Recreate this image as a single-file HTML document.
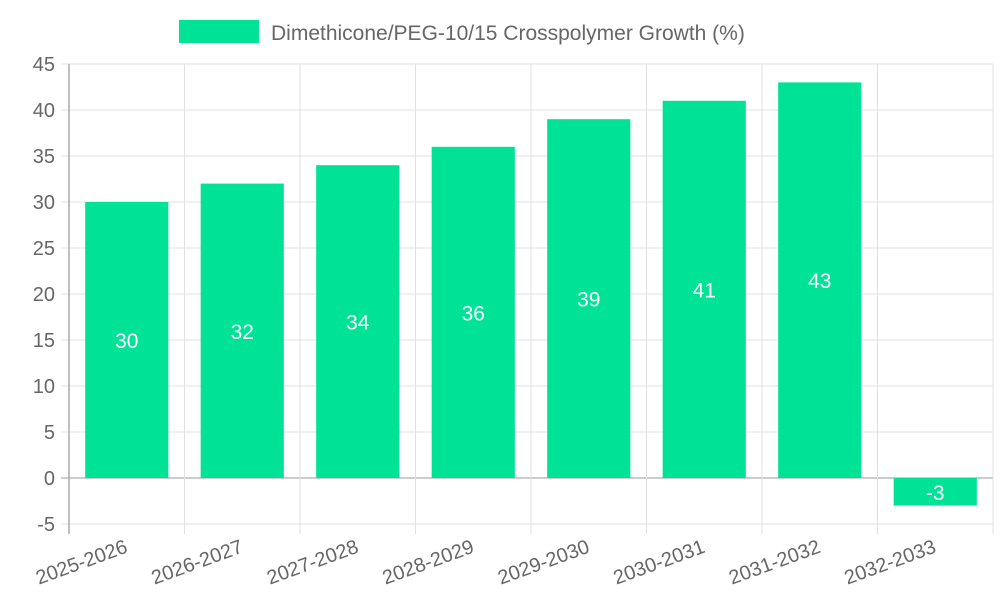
<!DOCTYPE html>
<html><head><meta charset="utf-8"><style>body{margin:0;background:#fff}svg{display:block}text{font-family:"Liberation Sans",sans-serif}</style></head>
<body>
<svg id="chart" width="1000" height="600" viewBox="0 0 1000 600">
<rect x="179" y="20" width="80" height="23" fill="#00e396"/>
<text x="271" y="40" font-size="21" fill="#666">Dimethicone/PEG-10/15 Crosspolymer Growth (%)</text>
<g id="grid"></g><g id="bars"></g><g id="labels"></g>
</svg>
<script>
const categories=["2025-2026","2026-2027","2027-2028","2028-2029","2029-2030","2030-2031","2031-2032","2032-2033"];
const values=[30,32,34,36,39,41,43,-3];
const yTicks=[-5,0,5,10,15,20,25,30,35,40,45];
const NS="http://www.w3.org/2000/svg";
const L=69,R=993,T=64,B=524,yMin=-5,yMax=45;
const y=v=>B-(v-yMin)/(yMax-yMin)*(B-T);
const bw=(R-L)/categories.length;
const x=i=>L+bw*i;
function mk(tag,attrs,parent){const e=document.createElementNS(NS,tag);for(const k in attrs)e.setAttribute(k,attrs[k]);document.getElementById(parent).appendChild(e);return e;}
yTicks.forEach(t=>{
  const g=mk("line",{x1:L-8,x2:R,y1:y(t),y2:y(t),stroke:t===0?"#bbb":"#e0e0e0","stroke-width":t===0?1.5:1},"grid");
  
  
  const tx=mk("text",{x:L-14,y:y(t)+7,"text-anchor":"end","font-size":20,fill:"#666"},"grid");
  tx.textContent=t;
  
  
});
for(let i=0;i<=categories.length;i++){
  const g=mk("line",{x1:x(i),x2:x(i),y1:T,y2:B+10,stroke:i===0?"#aaa":"#e0e0e0","stroke-width":i===0?1.5:1},"grid");
  
  
}
categories.forEach((c,i)=>{
  const cx=x(i)+bw/2,w=bw*0.72,v=values[i];
  const top=Math.min(y(v),y(0)),h=Math.abs(y(v)-y(0));
  const r=mk("rect",{x:cx-w/2,y:top,width:w,height:h,fill:"#00e396"},"bars");
  
  
  const vl=mk("text",{x:cx,y:top+h/2+8,"text-anchor":"middle","font-size":21,fill:"#fff"},"labels");
  vl.textContent=v;
  
  
  const tl=mk("text",{x:cx+2,y:552,"text-anchor":"end","font-size":20,fill:"#666",transform:`rotate(-20 ${cx+2} 552)`},"labels");
  tl.textContent=c;
  
  
});
</script>
</body></html>
